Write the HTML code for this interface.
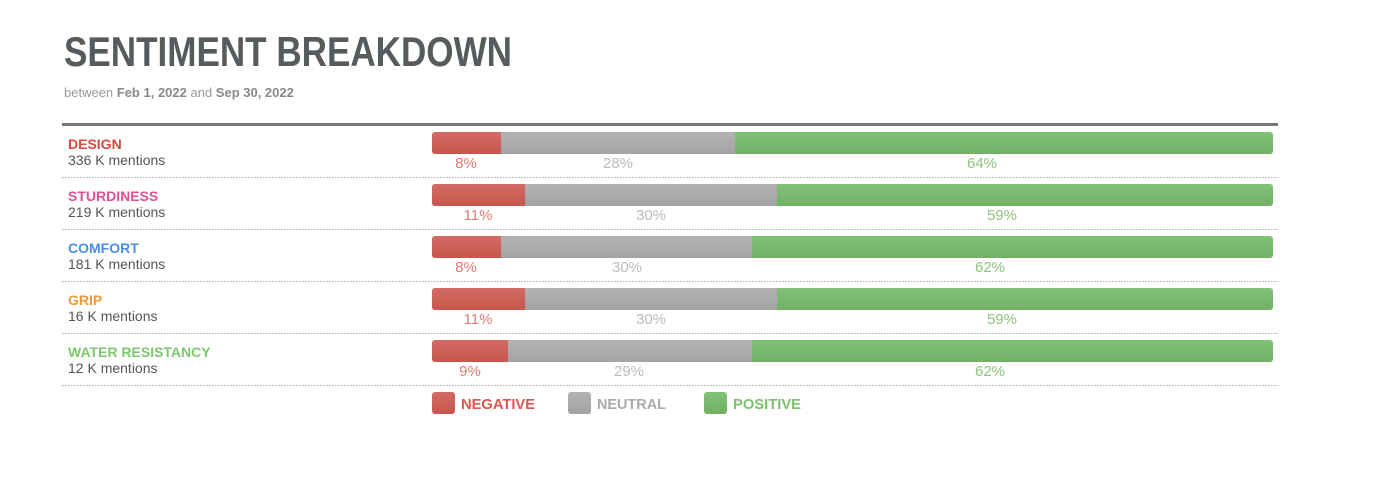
<!DOCTYPE html>
<html><head><meta charset="utf-8"><style>
html,body{margin:0;padding:0;background:#fff;}
svg{display:block;font-family:"Liberation Sans",sans-serif;}
</style></head><body>
<svg width="1384" height="480" viewBox="0 0 1384 480">
<defs>
<linearGradient id="gr" x1="0" y1="0" x2="0" y2="1"><stop offset="0" stop-color="#d26b63"/><stop offset="1" stop-color="#c8564e"/></linearGradient>
<linearGradient id="gg" x1="0" y1="0" x2="0" y2="1"><stop offset="0" stop-color="#b3b3b3"/><stop offset="1" stop-color="#a3a3a3"/></linearGradient>
<linearGradient id="gp" x1="0" y1="0" x2="0" y2="1"><stop offset="0" stop-color="#82c176"/><stop offset="1" stop-color="#70b164"/></linearGradient>
</defs>
<text x="64" y="66" font-size="42" font-weight="bold" fill="#565b5e" textLength="448" lengthAdjust="spacingAndGlyphs">SENTIMENT BREAKDOWN</text>
<text x="64" y="97" font-size="13" fill="#999">between <tspan font-weight="bold" fill="#888">Feb 1, 2022</tspan> and <tspan font-weight="bold" fill="#888">Sep 30, 2022</tspan></text>
<rect x="62" y="123" width="1216" height="3" fill="#777"/>
<g id="rows"></g>
<g font-size="15">
<!-- row 1 -->
<text x="68" y="149" font-weight="bold" font-size="14" fill="#d9473f">DESIGN</text>
<text x="68" y="165" font-size="14" fill="#555">336 K mentions</text>
<rect x="432" y="132" width="841" height="22" rx="3" fill="url(#gp)"/>
<rect x="501" y="132" width="234" height="22" fill="url(#gg)"/>
<path d="M435 132H501V154H435A3 3 0 0 1 432 151V135A3 3 0 0 1 435 132Z" fill="url(#gr)"/>
<text x="466" y="168" text-anchor="middle" fill="#e07a74">8%</text>
<text x="618" y="168" text-anchor="middle" fill="#bbb">28%</text>
<text x="982" y="168" text-anchor="middle" fill="#8cc47c">64%</text>
<line x1="62" y1="177.5" x2="1278" y2="177.5" stroke="#aaa" stroke-dasharray="1.5,1.5"/>
<!-- row 2 -->
<text x="68" y="201" font-weight="bold" font-size="14" fill="#e0509a">STURDINESS</text>
<text x="68" y="217" font-size="14" fill="#555">219 K mentions</text>
<rect x="432" y="184" width="841" height="22" rx="3" fill="url(#gp)"/>
<rect x="525" y="184" width="252" height="22" fill="url(#gg)"/>
<path d="M435 184H525V206H435A3 3 0 0 1 432 203V187A3 3 0 0 1 435 184Z" fill="url(#gr)"/>
<text x="478" y="220" text-anchor="middle" fill="#e07a74">11%</text>
<text x="651" y="220" text-anchor="middle" fill="#bbb">30%</text>
<text x="1002" y="220" text-anchor="middle" fill="#8cc47c">59%</text>
<line x1="62" y1="229.5" x2="1278" y2="229.5" stroke="#aaa" stroke-dasharray="1.5,1.5"/>
<!-- row 3 -->
<text x="68" y="253" font-weight="bold" font-size="14" fill="#4a8fe6">COMFORT</text>
<text x="68" y="269" font-size="14" fill="#555">181 K mentions</text>
<rect x="432" y="236" width="841" height="22" rx="3" fill="url(#gp)"/>
<rect x="501" y="236" width="251" height="22" fill="url(#gg)"/>
<path d="M435 236H501V258H435A3 3 0 0 1 432 255V239A3 3 0 0 1 435 236Z" fill="url(#gr)"/>
<text x="466" y="272" text-anchor="middle" fill="#e07a74">8%</text>
<text x="627" y="272" text-anchor="middle" fill="#bbb">30%</text>
<text x="990" y="272" text-anchor="middle" fill="#8cc47c">62%</text>
<line x1="62" y1="281.5" x2="1278" y2="281.5" stroke="#aaa" stroke-dasharray="1.5,1.5"/>
<!-- row 4 -->
<text x="68" y="305" font-weight="bold" font-size="14" fill="#ee9a3a">GRIP</text>
<text x="68" y="321" font-size="14" fill="#555">16 K mentions</text>
<rect x="432" y="288" width="841" height="22" rx="3" fill="url(#gp)"/>
<rect x="525" y="288" width="252" height="22" fill="url(#gg)"/>
<path d="M435 288H525V310H435A3 3 0 0 1 432 307V291A3 3 0 0 1 435 288Z" fill="url(#gr)"/>
<text x="478" y="324" text-anchor="middle" fill="#e07a74">11%</text>
<text x="651" y="324" text-anchor="middle" fill="#bbb">30%</text>
<text x="1002" y="324" text-anchor="middle" fill="#8cc47c">59%</text>
<line x1="62" y1="333.5" x2="1278" y2="333.5" stroke="#aaa" stroke-dasharray="1.5,1.5"/>
<!-- row 5 -->
<text x="68" y="357" font-weight="bold" font-size="14" fill="#7dc76d">WATER RESISTANCY</text>
<text x="68" y="373" font-size="14" fill="#555">12 K mentions</text>
<rect x="432" y="340" width="841" height="22" rx="3" fill="url(#gp)"/>
<rect x="508" y="340" width="244" height="22" fill="url(#gg)"/>
<path d="M435 340H508V362H435A3 3 0 0 1 432 359V343A3 3 0 0 1 435 340Z" fill="url(#gr)"/>
<text x="470" y="376" text-anchor="middle" fill="#e07a74">9%</text>
<text x="629" y="376" text-anchor="middle" fill="#bbb">29%</text>
<text x="990" y="376" text-anchor="middle" fill="#8cc47c">62%</text>
<line x1="62" y1="385.5" x2="1278" y2="385.5" stroke="#aaa" stroke-dasharray="1.5,1.5"/>
</g>
<!-- legend -->
<rect x="432" y="392" width="23" height="22" rx="3" fill="url(#gr)"/>
<text x="461" y="409" font-size="15" font-weight="bold" fill="#d9574f" textLength="74" lengthAdjust="spacingAndGlyphs">NEGATIVE</text>
<rect x="568" y="392" width="23" height="22" rx="3" fill="url(#gg)"/>
<text x="597" y="409" font-size="15" font-weight="bold" fill="#aaa" textLength="69" lengthAdjust="spacingAndGlyphs">NEUTRAL</text>
<rect x="704" y="392" width="23" height="22" rx="3" fill="url(#gp)"/>
<text x="733" y="409" font-size="15" font-weight="bold" fill="#7dbf6e" textLength="68" lengthAdjust="spacingAndGlyphs">POSITIVE</text>
</svg>
</body></html>
